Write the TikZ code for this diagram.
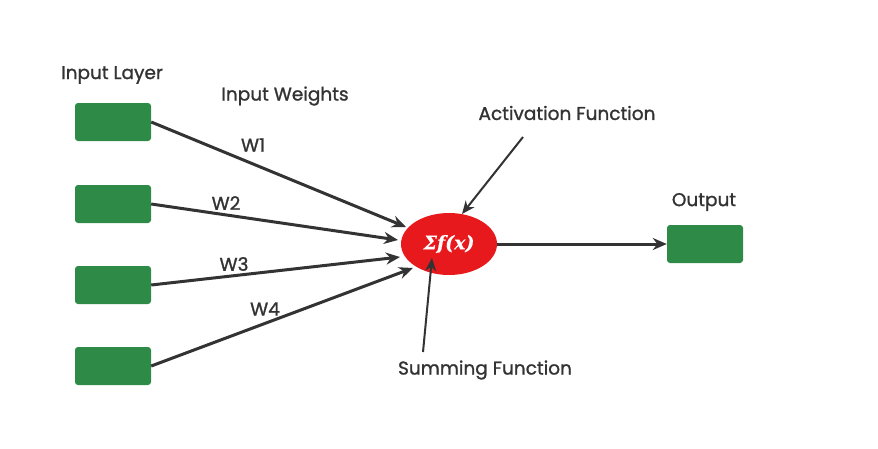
\documentclass[tikz,border=0pt]{standalone}
\usepackage{fontspec}
\setmainfont{Poppins}
\newfontfamily\labfont{Poppins}[FakeBold=1.2]
\newfontfamily\sigfont{DejaVu Serif}[FakeBold=0.3]
\usetikzlibrary{arrows.meta,shapes.geometric}
\definecolor{gbox}{HTML}{2E8B47}
\definecolor{rnode}{HTML}{E8191C}
\definecolor{ln}{HTML}{333333}
\begin{document}
\begin{tikzpicture}[x=1pt,y=-1pt,
 box/.style={draw=none,fill=gbox,rounded corners=3pt,minimum width=76pt,minimum height=38pt,inner sep=0},
 lab/.style={font=\labfont\fontsize{18.5}{20}\selectfont,text=ln,inner sep=0},
 con/.style={draw=ln,line width=3pt,-{Stealth[length=14pt,width=12pt]}},
 thin/.style={draw=ln,line width=2pt,-{Stealth[length=13pt,width=11pt]}}]
\useasboundingbox (0,0) rectangle (878,448);
\node[box] (i1) at (113,122) {};
\node[box] (i2) at (113,204) {};
\node[box] (i3) at (113,285) {};
\node[box] (i4) at (113,366) {};
\node[box] (o) at (705,244) {};
\node[ellipse,fill=rnode,minimum width=96pt,minimum height=62pt,inner sep=0] (s) at (449,244)
 {\textcolor{white}{\sigfont\bfseries\itshape\fontsize{19}{21}\selectfont Σf(x)}};
\coordinate (t1) at (406,227);
\coordinate (t2) at (398,240);
\coordinate (t3) at (400,257);
\coordinate (t4) at (413,268);
\draw[con] (i1.east) -- (t1);
\draw[con] (i2.east) -- (t2);
\draw[con] (i3.east) -- (t3);
\draw[con] (i4.east) -- (t4);
\draw[con] (s.east) -- (o.west);
\coordinate (a0) at (523,137);
\coordinate (a1) at (462,214);
\coordinate (b0) at (423,352);
\coordinate (b1) at (432,258);
\draw[thin] (a0) -- (a1);
\draw[thin] (b0) -- (b1);
\node[lab] (l1) at (112,75) {Input Layer};
\node[lab] (l2) at (285,96) {Input Weights};
\node[lab] (w1) at (253,145) {W1};
\node[lab] (w2) at (226,203) {W2};
\node[lab] (w3) at (234,264) {W3};
\node[lab] (w4) at (265,309) {W4};
\node[lab] (af) at (567,113) {Activation Function};
\node[lab] (op) at (704,202) {Output};
\node[lab] (sf) at (485,370) {Summing Function};
\end{tikzpicture}
\end{document}
